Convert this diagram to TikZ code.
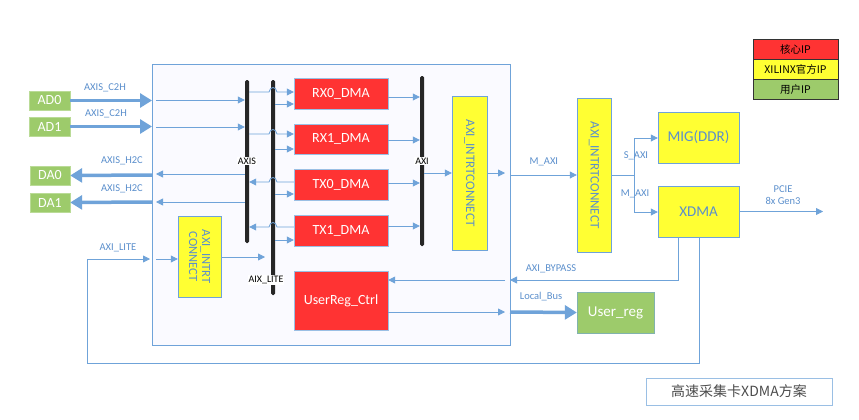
\documentclass[tikz,border=0pt]{standalone}
\usepackage{fontspec}
\setmainfont{Carlito}
\newfontfamily\cjk{Noto Sans CJK SC}
\usetikzlibrary{arrows.meta}
\definecolor{ab}{HTML}{6FA3D9}
\definecolor{tb}{HTML}{5B8FCC}
\definecolor{gr}{HTML}{9DCB6B}
\definecolor{rd}{HTML}{FF3333}
\definecolor{yl}{HTML}{FFFF33}
\begin{document}
\begin{tikzpicture}[x=1pt,y=-1pt,
 arr/.style={draw=ab,line width=0.8pt,-{Triangle[length=7pt,width=7pt]}},
 thick arr/.style={draw=ab,line width=3.5pt,-{Triangle[length=12pt,width=14pt]}},
 ln/.style={draw=ab,line width=0.8pt},
 lbl/.style={text=tb,font=\fontsize{10.5}{12}\selectfont,inner sep=0pt},
 gbox/.style={fill=gr,draw=gr!70!white,text=white,font=\fontsize{14}{15}\selectfont,inner sep=0pt},
 rbox/.style={fill=rd,draw=ab!70!white,text=white,font=\fontsize{14}{15}\selectfont,inner sep=0pt},
 ybox/.style={fill=yl,draw=ab,text=tb,inner sep=0pt},
 bar/.style={fill=black!85,draw=none,minimum width=4pt,inner sep=0pt,rounded corners=1.5pt},
 bartxt/.style={fill=white,font=\fontsize{10}{11}\selectfont,inner sep=1pt},
 leg/.style={draw=black!80,line width=0.8pt,minimum width=85pt,minimum height=20pt,inner sep=0pt,font=\cjk\fontsize{10.5}{11}\selectfont}]
\useasboundingbox (0,0) rectangle (859,420);
% big box
\node[draw=ab,fill=blue!2,minimum width=358pt,minimum height=281pt,inner sep=0pt,anchor=north west] (big) at (152,64) {};
% left nodes
\node[gbox,minimum width=41pt,minimum height=19pt] (ad0) at (49.5,100.5) {AD0};
\node[gbox,minimum width=41pt,minimum height=19pt] (ad1) at (49.5,126.5) {AD1};
\node[gbox,minimum width=40pt,minimum height=19pt] (da0) at (50,175.5) {DA0};
\node[gbox,minimum width=40pt,minimum height=19pt] (da1) at (50,202.5) {DA1};
% bars
\node[bar,minimum height=163pt] (axis) at (247,161.5) {};
\node[bar,minimum height=215pt] (lite) at (273,187.5) {};
\node[bar,minimum height=170pt] (axi) at (422,161) {};
\node[bartxt] at (247,161) {AXIS};
\node[bartxt] at (266,280) {AIX\_LITE};
\node[bartxt] at (422,161) {AXI};
% DMA boxes
\node[rbox,minimum width=94pt,minimum height=31pt] (rx0) at (341,93.5) {RX0\_DMA};
\node[rbox,minimum width=94pt,minimum height=30pt] (rx1) at (341,139) {RX1\_DMA};
\node[rbox,minimum width=94pt,minimum height=31pt] (tx0) at (341,184.5) {TX0\_DMA};
\node[rbox,minimum width=94pt,minimum height=31pt] (tx1) at (341,230.5) {TX1\_DMA};
\node[rbox,minimum width=94pt,minimum height=59pt] (ureg) at (341,300.5) {UserReg\_Ctrl};
% yellow boxes
\node[ybox,minimum width=35pt,minimum height=154pt] (ic1) at (469.5,173) {};
\node[rotate=-90,text=tb,font=\fontsize{13}{14}\selectfont] at (ic1) {AXI\_INTRTCONNECT};
\node[ybox,minimum width=34pt,minimum height=154pt] (ic2) at (594,175) {};
\node[rotate=-90,text=tb,font=\fontsize{13}{14}\selectfont] at (ic2) {AXI\_INTRTCONNECT};
\node[ybox,minimum width=43pt,minimum height=81pt] (ic0) at (199.5,256.5) {};
\node[rotate=-90,text=tb,align=center,font=\fontsize{12.5}{13}\selectfont] at (ic0) {AXI\_INTRT\\CONNECT};
\node[ybox,minimum width=81pt,minimum height=51pt,font=\fontsize{15}{16}\selectfont] (mig) at (698.5,137.5) {MIG(DDR)};
\node[ybox,minimum width=81pt,minimum height=51pt,font=\fontsize{15}{16}\selectfont] (xdma) at (698.5,211.5) {XDMA};
\node[gbox,minimum width=77pt,minimum height=41pt,draw=ab!60!gr,font=\fontsize{15}{16}\selectfont] (ureg2) at (615.5,312.5) {User\_reg};
% left thick arrows
\draw[thick arr] (ad0.east) -- (152,100.5);
\draw[thick arr] (ad1.east) -- (152,126.5);
\draw[thick arr] (152,175) -- (da0.east);
\draw[thick arr] (152,202) -- (da1.east);
\node[lbl] at (105,88) {AXIS\_C2H};
\node[lbl] at (106,114) {AXIS\_C2H};
\node[lbl] at (122,161) {AXIS\_H2C};
\node[lbl] at (122,189) {AXIS\_H2C};
% inside left arrows
\draw[arr] (156,100) -- (axis.west|-0,100);
\draw[arr] (156,127) -- (axis.west|-0,127);
\draw[arr] (axis.west|-0,174) -- (156,174);
\draw[arr] (axis.west|-0,202) -- (156,202);
% axis to dma with hops
\foreach \b/\y in {rx0/92,rx1/134}{
 \draw[arr] (axis.east|-0,\y) -- (269,\y) .. controls (270,\y-6) and (276,\y-6) .. (277,\y) -- (\b.west|-0,\y);
}
\foreach \b/\y in {tx0/182,tx1/227}{
 \draw[arr] (\b.west|-0,\y) -- (277,\y) .. controls (276,\y-6) and (270,\y-6) .. (269,\y) -- (axis.east|-0,\y);
}
\foreach \b/\y in {rx0/104,rx1/149,tx0/194,tx1/240}{
 \draw[arr] (lite.east|-0,\y) -- (\b.west|-0,\y);
}
% dma to axi
\foreach \b/\y in {rx0/97,rx1/140,tx0/183,tx1/226}{
 \draw[arr] (\b.east|-0,\y) -- (axi.west|-0,\y);
}
\draw[arr] (axi.east|-0,173) -- (ic1.west|-0,173);
\draw[arr] (ic1.east|-0,173) -- (505,173);
\draw[arr] (511,175) -- (ic2.west|-0,175) node[lbl,midway,above=9pt] {M\_AXI};
% branch
\coordinate (br) at (634,175);
\draw[ln] (ic2.east|-br) -- (br);
\draw[arr] (br) -- (634,138) -- (mig.west|-0,138);
\draw[arr] (br) -- (634,212) -- (xdma.west|-0,212);
\node[lbl] at (636,156) {S\_AXI};
\node[lbl] at (635,194) {M\_AXI};
\draw[arr] (xdma.east) -- (823,211.5);
\node[lbl,align=center] at (783,195) {PCIE\\8x Gen3};
% bypass
\draw[arr] (678,237) -- (678,280) -- (510,280);
\node[lbl] at (551,269) {AXI\_BYPASS};
\draw[arr] (505,280) -- (ureg.east|-0,280);
% axi lite loop
\draw[arr] (699,237) -- (699,363) -- (87,363) -- (87,259) -- (150,259);
\node[lbl] at (118,248) {AXI\_LITE};
\draw[arr] (156,259) -- (ic0.west|-0,259);
\draw[arr] (ic0.east|-0,257) -- (265,257);
% local bus
\draw[arr] (ureg.east|-0,312) -- (505,312);
\draw[thick arr] (510,312) -- (ureg2.west);
\node[lbl] at (541,297) {Local\_Bus};
% legend
\node[leg,fill=rd] (l1) at (795.5,49.5) {核心IP};
\node[leg,fill=yl] (l2) at (795.5,69.5) {XILINX官方IP};
\node[leg,fill=gr] (l3) at (795.5,89.5) {用户IP};
% title
\node[draw=ab!70!white,minimum width=186pt,minimum height=27pt,inner sep=0pt,text=black!70,font=\cjk\fontsize{14}{15}\selectfont] (title) at (739,391.5) {高速采集卡XDMA方案};
\end{tikzpicture}
\end{document}
